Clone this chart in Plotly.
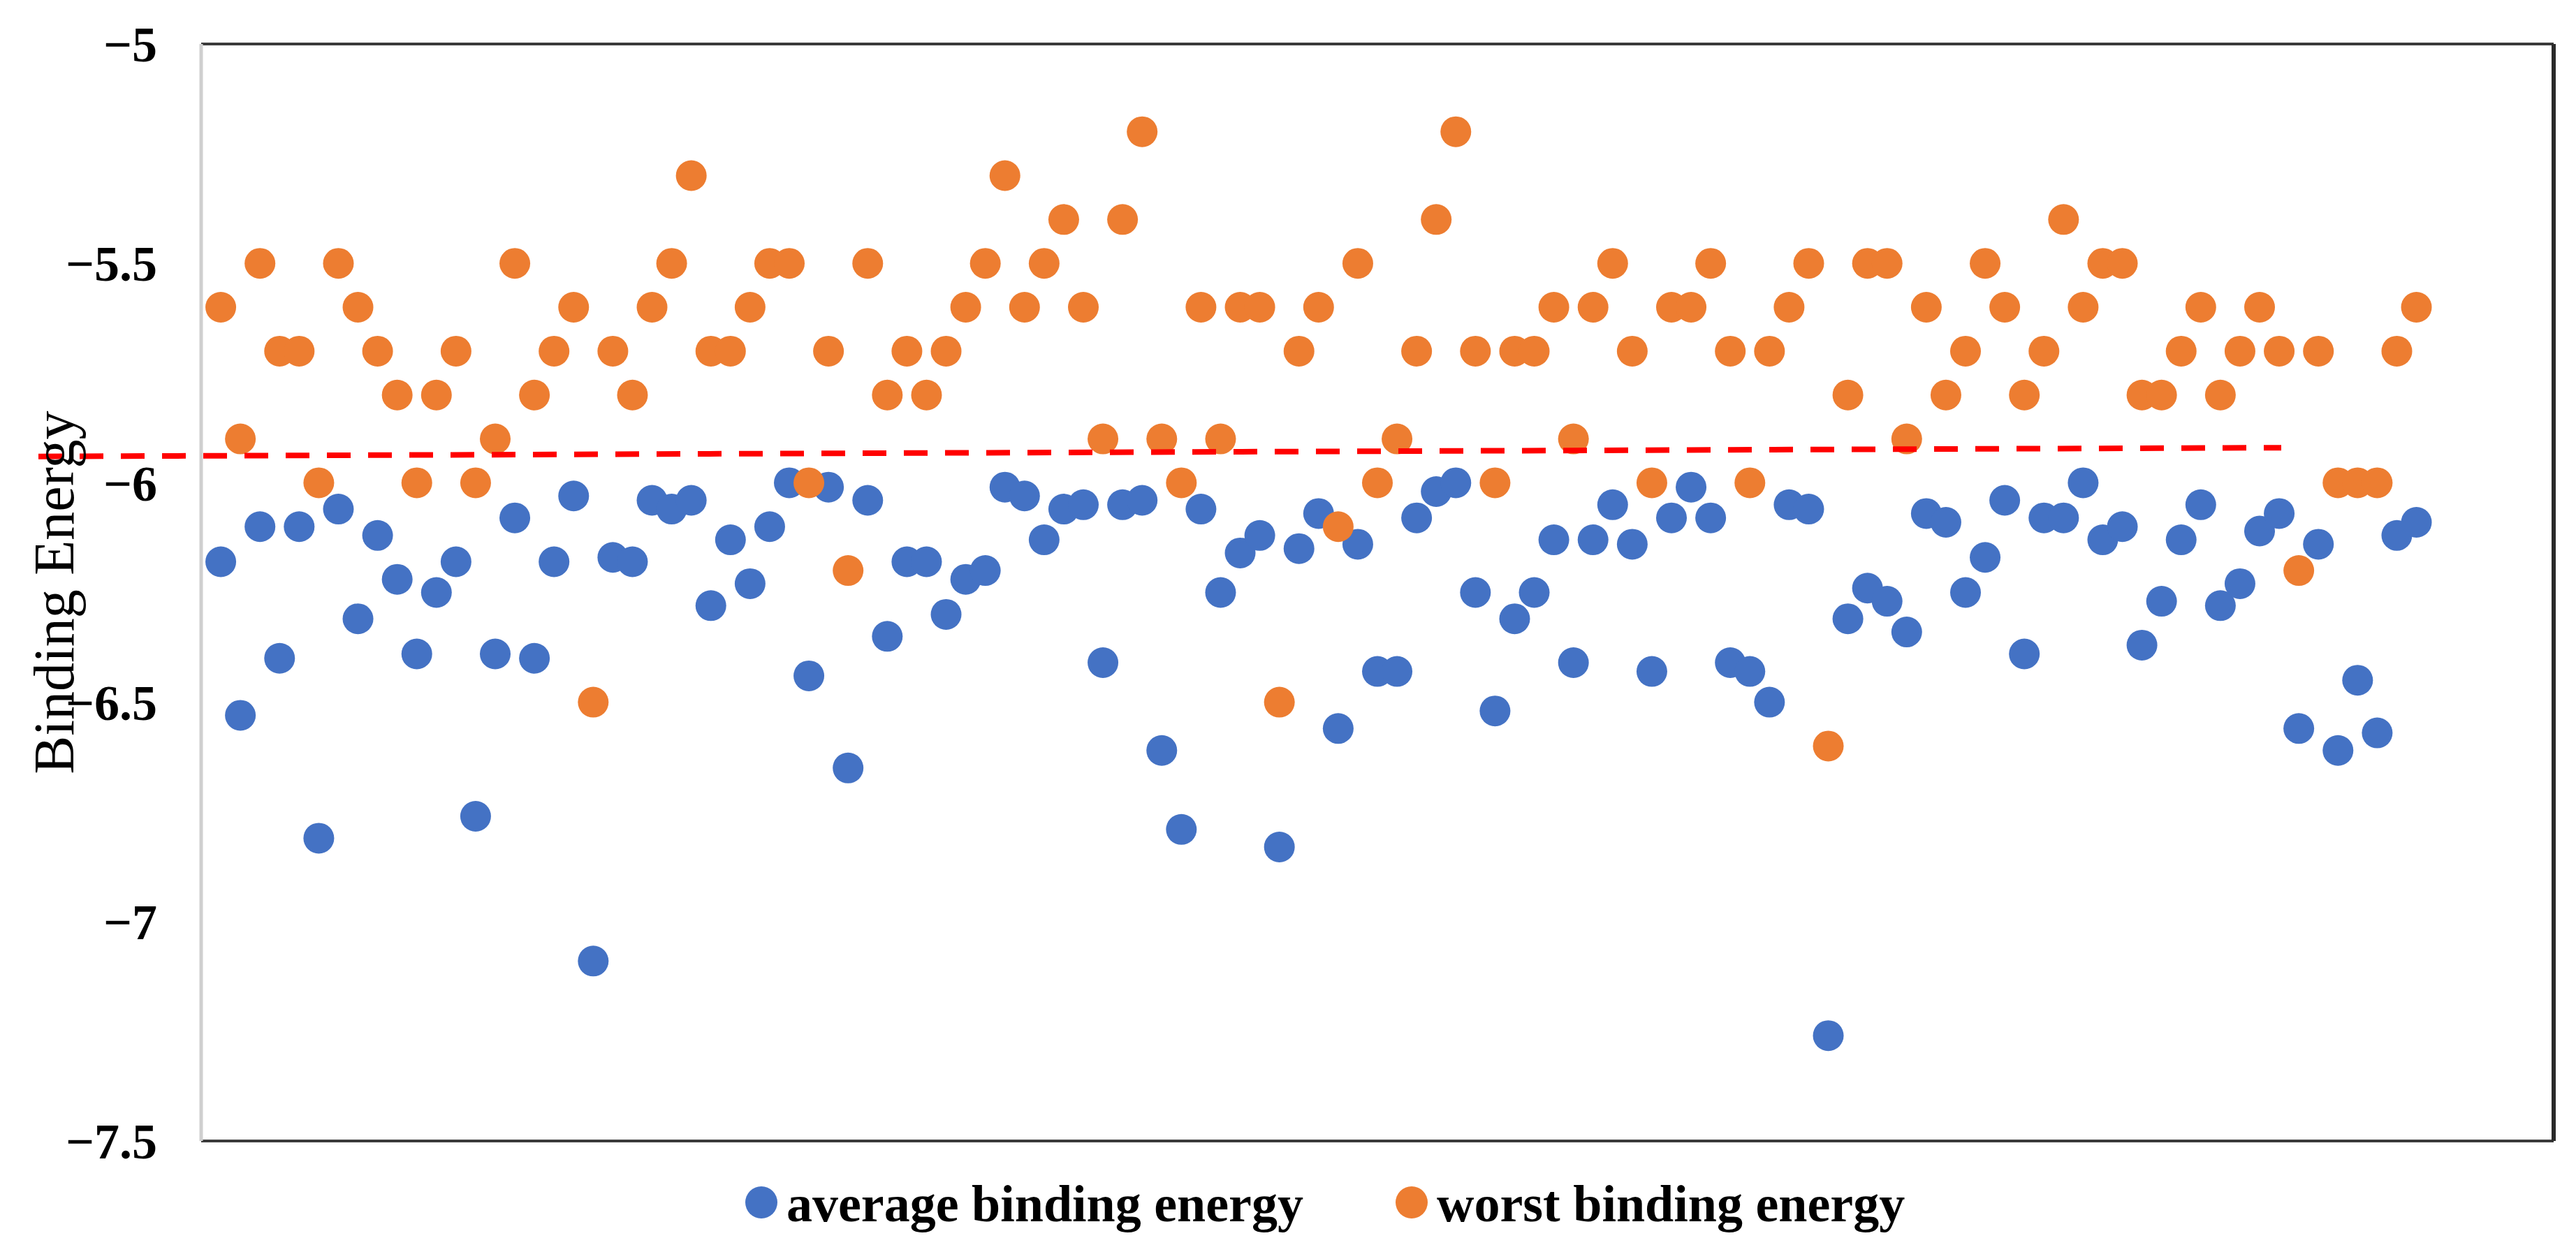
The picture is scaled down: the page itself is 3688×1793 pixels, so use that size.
import plotly.graph_objects as go

# ---- data ----
sample_ids = list(range(1, 114))

average_binding_energy = [
    -6.18, -6.53, -6.10, -6.40, -6.10, -6.81, -6.06, -6.31, -6.12, -6.22,
    -6.39, -6.25, -6.18, -6.76, -6.39, -6.08, -6.40, -6.18, -6.03, -7.09,
    -6.17, -6.18, -6.04, -6.06, -6.04, -6.28, -6.13, -6.23, -6.10, -6.00,
    -6.44, -6.01, -6.65, -6.04, -6.35, -6.18, -6.18, -6.30, -6.22, -6.20,
    -6.01, -6.03, -6.13, -6.06, -6.05, -6.41, -6.05, -6.04, -6.61, -6.79,
    -6.06, -6.25, -6.16, -6.12, -6.83, -6.15, -6.07, -6.56, -6.14, -6.43,
    -6.43, -6.08, -6.02, -6.00, -6.25, -6.52, -6.31, -6.25, -6.13, -6.41,
    -6.13, -6.05, -6.14, -6.43, -6.08, -6.01, -6.08, -6.41, -6.43, -6.50,
    -6.05, -6.06, -7.26, -6.31, -6.24, -6.27, -6.34, -6.07, -6.09, -6.25,
    -6.17, -6.04, -6.39, -6.08, -6.08, -6.00, -6.13, -6.10, -6.37, -6.27,
    -6.13, -6.05, -6.28, -6.23, -6.11, -6.07, -6.56, -6.14, -6.61, -6.45,
    -6.57, -6.12, -6.09,
]

worst_binding_energy = [
    -5.6, -5.9, -5.5, -5.7, -5.7, -6.0, -5.5, -5.6, -5.7, -5.8,
    -6.0, -5.8, -5.7, -6.0, -5.9, -5.5, -5.8, -5.7, -5.6, -6.5,
    -5.7, -5.8, -5.6, -5.5, -5.3, -5.7, -5.7, -5.6, -5.5, -5.5,
    -6.0, -5.7, -6.2, -5.5, -5.8, -5.7, -5.8, -5.7, -5.6, -5.5,
    -5.3, -5.6, -5.5, -5.4, -5.6, -5.9, -5.4, -5.2, -5.9, -6.0,
    -5.6, -5.9, -5.6, -5.6, -6.5, -5.7, -5.6, -6.1, -5.5, -6.0,
    -5.9, -5.7, -5.4, -5.2, -5.7, -6.0, -5.7, -5.7, -5.6, -5.9,
    -5.6, -5.5, -5.7, -6.0, -5.6, -5.6, -5.5, -5.7, -6.0, -5.7,
    -5.6, -5.5, -6.6, -5.8, -5.5, -5.5, -5.9, -5.6, -5.8, -5.7,
    -5.5, -5.6, -5.8, -5.7, -5.4, -5.6, -5.5, -5.5, -5.8, -5.8,
    -5.7, -5.6, -5.8, -5.7, -5.6, -5.7, -6.2, -5.7, -6.0, -6.0,
    -6.0, -5.7, -5.6,
]

y_tick_values = [-7.5, -7.0, -6.5, -6.0, -5.5, -5.0]
threshold_start = -5.94
threshold_end = -5.92

series_names = ["average binding energy", "worst binding energy"]
BLUE = "#4472C4"
ORANGE = "#ED7D31"
SERIF = "Liberation Serif"

# page size and the browser's default body margin
PAGE_W, PAGE_H = 3688, 1793
BODY = 8
W, H = PAGE_W - 2 * BODY, PAGE_H - 2 * BODY
# plot area in page pixels: x 288..3656, y 63..1634
ML = 288 - BODY
MT = 63 - BODY
MR = W - (3656 - BODY)
MB = H - (1634 - BODY)
PW = W - ML - MR
PH = H - MT - MB


def px_x(page_px):
    return (page_px - BODY - ML) / PW


def px_y(page_py):
    return (H - MB - (page_py - BODY)) / PH


fig = go.Figure()
fig.add_trace(go.Scatter(
    x=sample_ids, y=average_binding_energy, mode="markers",
    name=series_names[0],
    marker=dict(color=BLUE, size=44, line=dict(width=0)),
))
fig.add_trace(go.Scatter(
    x=sample_ids, y=worst_binding_energy, mode="markers",
    name=series_names[1],
    marker=dict(color=ORANGE, size=44, line=dict(width=0)),
))

shapes = []
# plot border
shapes.append(dict(type="line", xref="paper", yref="paper", x0=0, x1=1, y0=1, y1=1,
                   line=dict(color="#3a3a3a", width=4)))
shapes.append(dict(type="line", xref="paper", yref="paper", x0=0, x1=1, y0=0, y1=0,
                   line=dict(color="#3a3a3a", width=4)))
shapes.append(dict(type="line", xref="paper", yref="paper", x0=1, x1=1, y0=0, y1=1,
                   line=dict(color="#2a2a2a", width=6)))
shapes.append(dict(type="line", xref="paper", yref="paper", x0=0, x1=0, y0=0, y1=1,
                   line=dict(color="#cfcfcf", width=5)))
# red dashed reference line
shapes.append(dict(type="line", xref="paper", yref="y",
                   x0=px_x(55), x1=px_x(3266), y0=threshold_start, y1=threshold_end,
                   line=dict(color="#FF0000", width=8, dash="34px,25px"), layer="above"))
# custom legend markers
for cx, col in [(1090, BLUE), (2021, ORANGE)]:
    shapes.append(dict(type="circle", xref="paper", yref="paper",
                       xsizemode="pixel", ysizemode="pixel",
                       xanchor=px_x(cx), yanchor=px_y(1722),
                       x0=-23, x1=23, y0=-23, y1=23,
                       fillcolor=col, line=dict(width=0)))

annotations = [
    dict(text="Binding Energy", xref="paper", yref="paper", x=px_x(77), y=0.5,
         xanchor="center", yanchor="middle", textangle=-90, showarrow=False,
         font=dict(family=SERIF, size=82, color="black")),
    dict(text=series_names[0], xref="paper", yref="paper", x=px_x(1124), y=px_y(1724),
         xanchor="left", yanchor="middle", showarrow=False,
         font=dict(family=SERIF, size=74, color="black", weight="bold")),
    dict(text=series_names[1], xref="paper", yref="paper", x=px_x(2055), y=px_y(1724),
         xanchor="left", yanchor="middle", showarrow=False,
         font=dict(family=SERIF, size=74, color="black", weight="bold")),
]

fig.update_layout(
    width=W, height=H,
    margin=dict(l=ML, r=MR, t=MT, b=MB, pad=0),
    paper_bgcolor="white", plot_bgcolor="white",
    showlegend=False,
    shapes=shapes,
    annotations=annotations,
    xaxis=dict(range=[0, 120], showgrid=False, zeroline=False, showticklabels=False,
               ticks="", showline=False),
    yaxis=dict(range=[-7.5, -5.0], tickvals=y_tick_values, showgrid=False,
               zeroline=False, ticks="", showline=False, ticklabelstandoff=62,
               tickfont=dict(family=SERIF, size=72, color="black", weight="bold")),
)

fig.write_html("out.html")
